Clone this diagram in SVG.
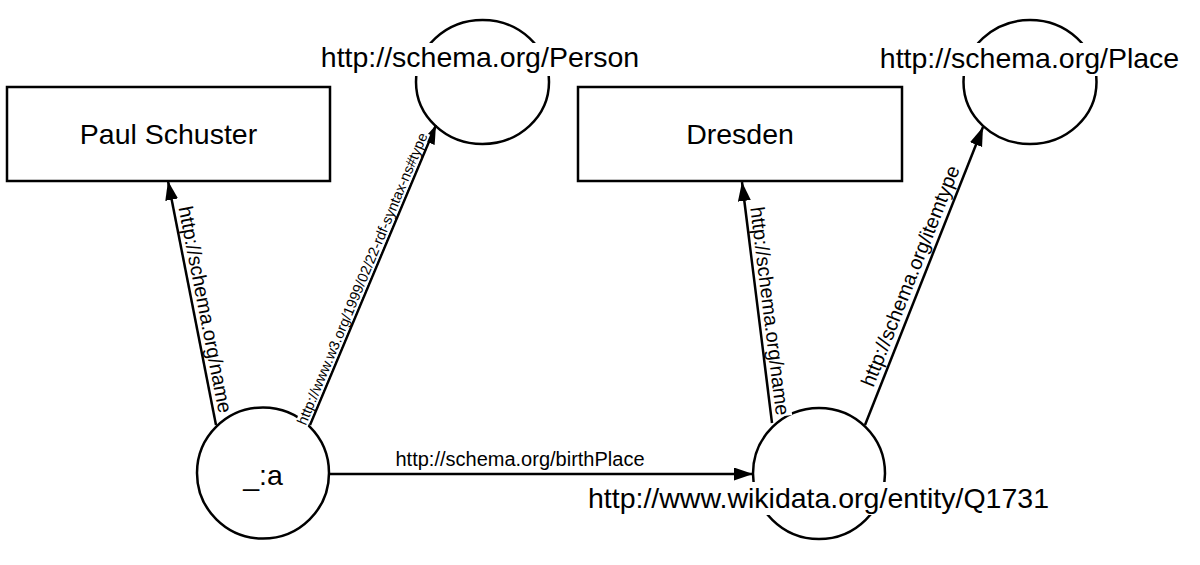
<svg xmlns="http://www.w3.org/2000/svg" width="1200" height="565" viewBox="0 0 1200 565">
  <defs>
    <marker id="arrow" markerUnits="userSpaceOnUse" markerWidth="20" markerHeight="14" refX="19" refY="6.5" orient="auto">
      <path d="M0,0 L19,6.5 L0,13 z" fill="#000"/>
    </marker>
    <style>
      .node { fill: #fff; stroke: #000; stroke-width: 2.5; }
      .big { font-family: "Liberation Sans", Arial, sans-serif; font-size: 28.5px; fill: #000; text-anchor: middle; }
      .edge { stroke: #000; stroke-width: 2.5; fill: none; marker-end: url(#arrow); }
      .lbl { font-family: "Liberation Sans", Arial, sans-serif; font-size: 20px; fill: #000; text-anchor: middle; }
      .lbls { font-family: "Liberation Sans", Arial, sans-serif; font-size: 14.5px; fill: #000; text-anchor: middle; }
      .bg { fill: #fff; stroke: none; }
    </style>
  </defs>
  <rect width="1200" height="565" fill="#fff"/>

  <g id="node-paul">
    <rect class="node" x="7" y="87" width="323" height="94"/>
    <text class="big" x="168.5" y="144">Paul Schuster</text>
  </g>
  <g id="node-person">
    <ellipse class="node" cx="482.5" cy="82" rx="66.5" ry="62"/>
    <rect class="bg" x="318" y="43" width="326" height="33"/>
    <text class="big" x="480" y="67">http://schema.org/Person</text>
  </g>
  <g id="node-dresden">
    <rect class="node" x="578" y="87" width="324" height="94"/>
    <text class="big" x="740" y="144">Dresden</text>
  </g>
  <g id="node-place">
    <ellipse class="node" cx="1030" cy="82" rx="66.5" ry="62"/>
    <rect class="bg" x="876" y="43" width="308" height="33"/>
    <text class="big" x="1029.5" y="68">http://schema.org/Place</text>
  </g>
  <g id="node-a">
    <ellipse class="node" cx="263" cy="473" rx="66" ry="65.5"/>
    <text class="big" x="263" y="485">_:a</text>
  </g>
  <g id="node-q1731">
    <ellipse class="node" cx="819" cy="473.5" rx="66" ry="65.5"/>
    <rect class="bg" x="584" y="482" width="470" height="33"/>
    <text class="big" x="818.5" y="508">http://www.wikidata.org/entity/Q1731</text>
  </g>

  <g id="connectors">
    <line class="edge" x1="216" y1="425" x2="168" y2="181"/>
    <line class="edge" x1="310" y1="425" x2="436" y2="125"/>
    <line class="edge" x1="329" y1="474" x2="753" y2="474"/>
    <line class="edge" x1="772" y1="423" x2="742" y2="182"/>
    <line class="edge" x1="865" y1="425" x2="983" y2="127"/>

    <g transform="translate(193.8,311.9) rotate(78.87)">
      <rect class="bg" x="-106" y="-21" width="212" height="18"/>
      <text class="lbl" x="0" y="-5">http://schema.org/name</text>
    </g>
    <g transform="translate(370,282) rotate(-67.22)">
      <rect class="bg" x="-159" y="-14.5" width="318" height="13"/>
      <text class="lbls" x="0" y="-3.5">http://www.w3.org/1999/02/22-rdf-syntax-ns#type</text>
    </g>
    <text class="lbl" x="520" y="466">http://schema.org/birthPlace</text>
    <g transform="translate(758.2,312.5) rotate(82.9)">
      <rect class="bg" x="-106" y="-21" width="212" height="18"/>
      <text class="lbl" x="0" y="-5">http://schema.org/name</text>
    </g>
    <g transform="translate(922.2,280.7) rotate(-68.4)">
      <rect class="bg" x="-119" y="-22" width="238" height="18"/>
      <text class="lbl" x="0" y="-6">http://schema.org/itemtype</text>
    </g>
  </g>
</svg>
